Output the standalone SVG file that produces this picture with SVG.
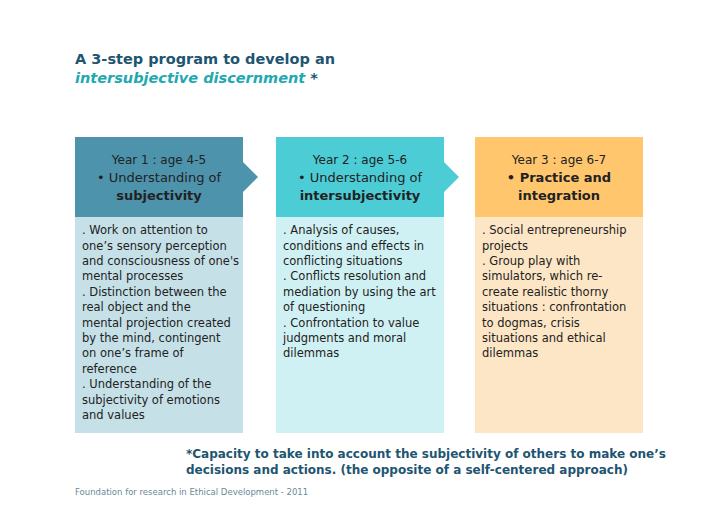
<svg xmlns="http://www.w3.org/2000/svg" width="728" height="515" viewBox="0 0 728 515">
<style>
text{font-family:"DejaVu Sans",sans-serif;fill:#222}
.h{font-size:12px;text-anchor:middle}
.hb{font-size:13px;text-anchor:middle}
.b{font-size:11.5px}
.bold{font-weight:bold}
</style>
<rect width="728" height="515" fill="#fff"/>
<text x="75" y="64" font-size="14.5" font-weight="bold" style="fill:#1e5570">A 3-step program to develop an</text>
<text x="75" y="83" font-size="14.5" font-weight="bold"><tspan font-style="italic" style="fill:#22a8b0">intersubjective discernment</tspan><tspan style="fill:#1e5570"> *</tspan></text>
<g id="col1">
<path d="M75 137H243V162L258 177L243 192V217H75Z" fill="#4c93ab"/>
<rect x="75" y="217" width="168" height="216" fill="#c6e0e8"/>
<text class="h" x="159" y="164">Year 1 : age 4-5</text>
<text class="hb" x="159" y="182">• Understanding of</text>
<text class="hb bold" x="159" y="200">subjectivity</text>
<text class="b" x="82" y="234">. Work on attention to</text>
<text class="b" x="82" y="250">one’s sensory perception</text>
<text class="b" x="82" y="265">and consciousness of one's</text>
<text class="b" x="82" y="280">mental processes</text>
<text class="b" x="82" y="296">. Distinction between the</text>
<text class="b" x="82" y="311">real object and the</text>
<text class="b" x="82" y="327">mental projection created</text>
<text class="b" x="82" y="342">by the mind, contingent</text>
<text class="b" x="82" y="357">on one’s frame of</text>
<text class="b" x="82" y="373">reference</text>
<text class="b" x="82" y="388">. Understanding of the</text>
<text class="b" x="82" y="404">subjectivity of emotions</text>
<text class="b" x="82" y="419">and values</text>
</g>
<g id="col2">
<path d="M276 137H444V162L459 177L444 192V217H276Z" fill="#4ccdd6"/>
<rect x="276" y="217" width="168" height="216" fill="#d0f1f3"/>
<text class="h" x="360" y="164">Year 2 : age 5-6</text>
<text class="hb" x="360" y="182">• Understanding of</text>
<text class="hb bold" x="360" y="200">intersubjectivity</text>
<text class="b" x="283" y="234">. Analysis of causes,</text>
<text class="b" x="283" y="250">conditions and effects in</text>
<text class="b" x="283" y="265">conflicting situations</text>
<text class="b" x="283" y="280">. Conflicts resolution and</text>
<text class="b" x="283" y="296">mediation by using the art</text>
<text class="b" x="283" y="311">of questioning</text>
<text class="b" x="283" y="327">. Confrontation to value</text>
<text class="b" x="283" y="342">judgments and moral</text>
<text class="b" x="283" y="357">dilemmas</text>
</g>
<g id="col3">
<rect x="475" y="137" width="168" height="80" fill="#ffc66e"/>
<rect x="475" y="217" width="168" height="216" fill="#fde6c6"/>
<text class="h" x="559" y="164">Year 3 : age 6-7</text>
<text class="hb bold" x="559" y="182">• Practice and</text>
<text class="hb bold" x="559" y="200">integration</text>
<text class="b" x="482" y="234">. Social entrepreneurship</text>
<text class="b" x="482" y="250">projects</text>
<text class="b" x="482" y="265">. Group play with</text>
<text class="b" x="482" y="280">simulators, which re-</text>
<text class="b" x="482" y="296">create realistic thorny</text>
<text class="b" x="482" y="311">situations : confrontation</text>
<text class="b" x="482" y="327">to dogmas, crisis</text>
<text class="b" x="482" y="342">situations and ethical</text>
<text class="b" x="482" y="357">dilemmas</text>
</g>
<g id="connectors"></g>
<text x="186" y="458" font-size="12" font-weight="bold" style="fill:#1e5570">*Capacity to take into account the subjectivity of others to make one’s</text>
<text x="186" y="474" font-size="12" font-weight="bold" style="fill:#1e5570">decisions and actions. (the opposite of a self-centered approach)</text>
<text x="75" y="495" font-size="8.5" style="fill:#6a8a98">Foundation for research in Ethical Development - 2011</text>
</svg>
